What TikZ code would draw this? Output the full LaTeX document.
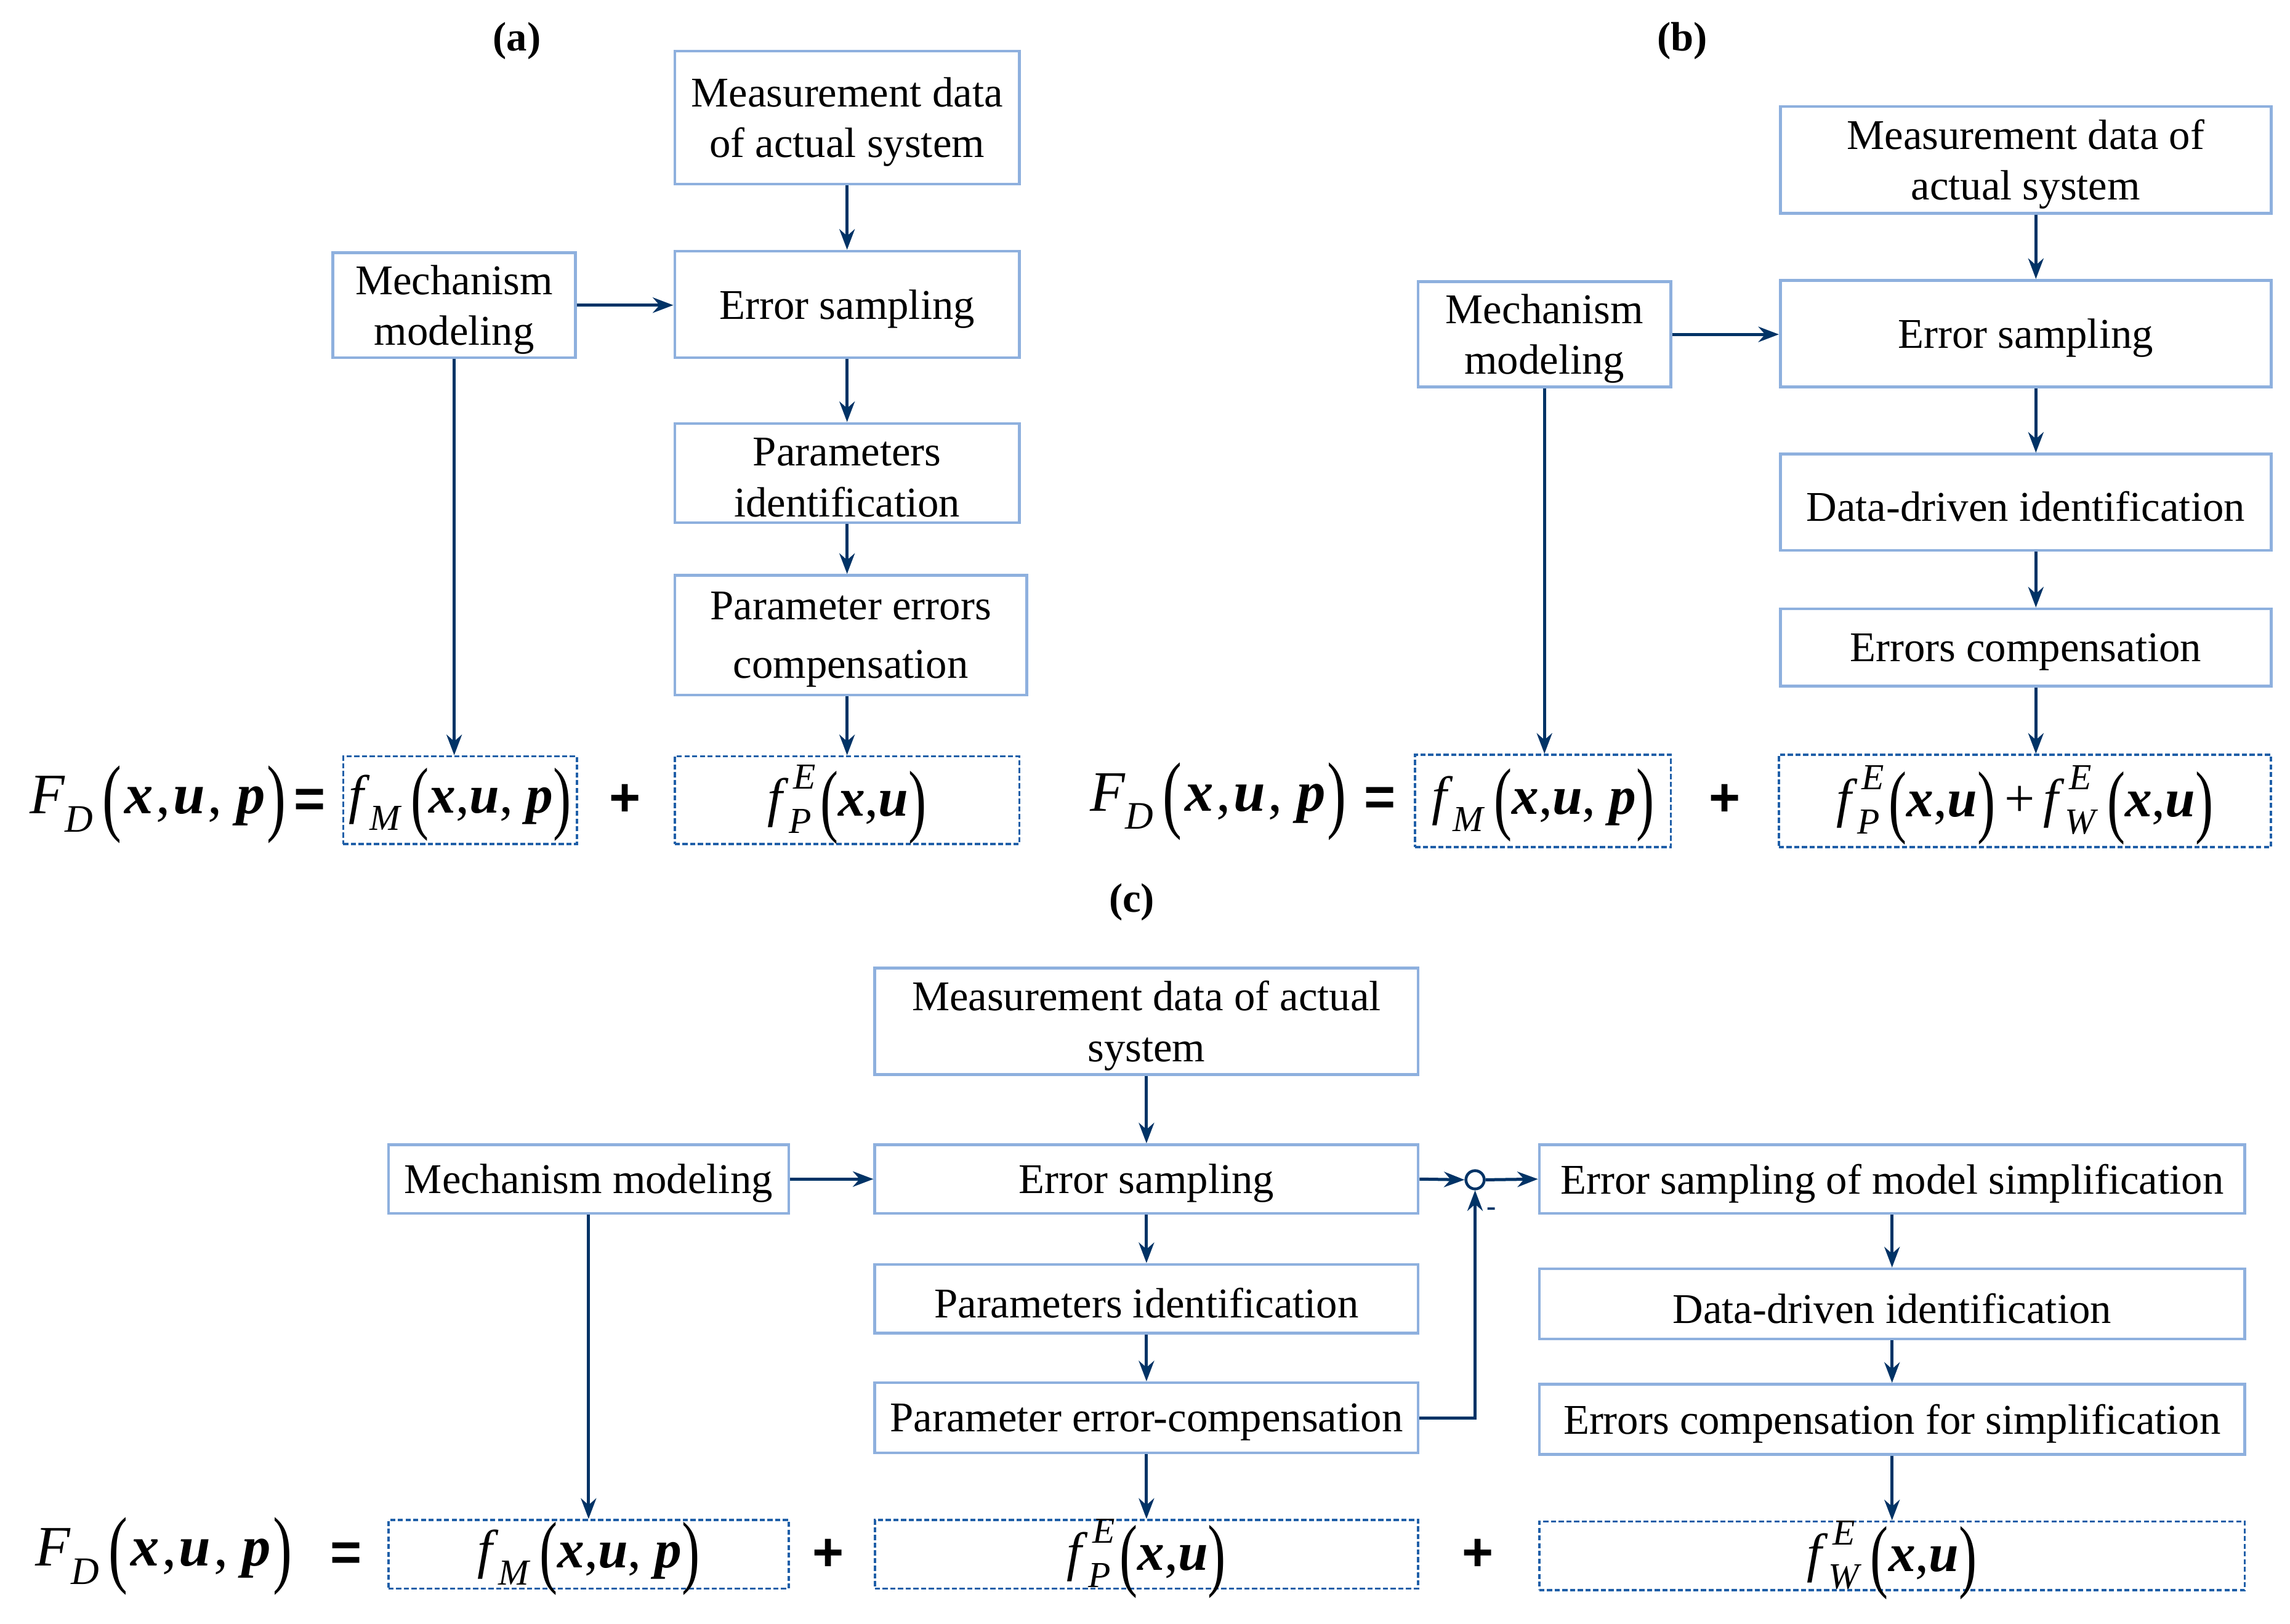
\documentclass[tikz,border=0pt]{standalone}
\usepackage{graphicx}
\usepackage{fontspec}
\setmainfont{Liberation Serif}
\newfontfamily\sansb{Liberation Sans}
\usetikzlibrary{arrows.meta,calc}
\definecolor{boxc}{HTML}{8EB0DE}
\definecolor{arrc}{HTML}{003366}
\definecolor{dashc}{HTML}{1F5FA8}
\newcommand{\boxfnt}{\fontsize{16.5}{19.8}\selectfont}
\newcommand{\formfnt}{\fontsize{21}{25}\selectfont}
\newcommand{\bigformfnt}{\fontsize{22.3}{27}\selectfont}
\newcommand{\bi}[1]{\textbf{\textit{#1}}}
\newcommand{\LP}{\raisebox{-0.2em}{\scalebox{1}[1.5]{(}}}
\newcommand{\RP}{\raisebox{-0.2em}{\scalebox{1}[1.5]{)}}}
\newcommand{\sbs}[1]{\raisebox{-0.32em}{\scalebox{0.68}{\textit{#1}}}}
\newcommand{\sbsp}[2]{\rlap{\kern0.08em\raisebox{0.5em}{\scalebox{0.68}{\textit{#2}}}}\sbs{#1}}
\newcommand{\FD}{\textit{F}\sbs{D}\,\LP\kern0.05em\bi{x}\kern0.05em,\kern0.05em\bi{u}\kern0.05em, \bi{p}\kern0.03em\RP}
\newcommand{\FM}{\textit{f}\sbs{M}\,\LP\bi{x},\bi{u}, \bi{p}\RP}
\newcommand{\FP}{\textit{f}\sbsp{P}{E}\,\LP\bi{x},\bi{u}\RP}
\newcommand{\FW}{\textit{f}\sbsp{W}{E}\,\LP\bi{x},\bi{u}\RP}
\newcommand{\heavy}[1]{{\sansb\bfseries #1}}
% style, name, x1, y1, x2, y2, text
\newcommand{\rectnode}[7]{%
  \node[#1, minimum width={(#5-#3)*0.02cm}, minimum height={(#6-#4)*0.02cm}] (#2) at ({(#3+#5)/2},{(#4+#6)/2}) {};
  \node[#1 text] (#2t) at ($(#2.center)+(0,3)$) {#7};}
\begin{document}
\begin{tikzpicture}[x=0.02cm,y=-0.02cm,
  box/.style={draw=boxc, line width=1.1pt, inner sep=0pt},
  box text/.style={inner sep=0pt, align=center, font=\boxfnt},
  dbox/.style={draw=dashc, line width=0.9pt, dash pattern=on 2pt off 1pt, inner sep=0pt},
  dbox text/.style={inner sep=0pt, font=\formfnt},
  arr/.style={draw=arrc, line width=1.2pt, -{Stealth[length=8pt,width=6pt]}},
  formula/.style={font=\formfnt, inner sep=0pt},
  fdformula/.style={font=\bigformfnt, inner sep=0pt},
  ttl/.style={font=\fontsize{16}{19}\selectfont\bfseries}]
\useasboundingbox (0,0) rectangle (1568,1112);

% ---------------- (a) ----------------
\node[ttl] (ta) at (354,28) {(a)};
\rectnode{box}{ma}{462}{35}{698}{126}{Measurement data\\of actual system}
\rectnode{box}{ea}{462}{172}{698}{245}{Error sampling}
\rectnode{box}{mecha}{228}{173}{394}{245}{Mechanism\\modeling}
\rectnode{box}{pia}{462}{290}{698}{358}{Parameters\\identification}
\rectnode{box}{pca}{462}{394}{703}{476}{Parameter errors\\[3pt]compensation}
\rectnode{dbox}{fma}{235}{518}{395}{578}{\FM}
\rectnode{dbox}{fpa}{462}{518}{698}{578}{\FP}
\node[fdformula, anchor=west] (FDa) at (20,551) {\FD};
\node[formula] (eqa) at (212,550) {\heavy{=}};
\node[formula] (plusa) at (428,548) {\heavy{+}};
\draw[arr] (ma) -- (ea);
\draw[arr] (ea) -- (pia);
\draw[arr] (pia.south) -- (pia.south |- pca.north);
\draw[arr] (pca.south -| fpa.north) -- (fpa.north);
\draw[arr] (mecha.east) -- (mecha.east -| ea.west);
\draw[arr] (mecha.south) -- (mecha.south |- fma.north);

% ---------------- (b) ----------------
\node[ttl] (tb) at (1152,28) {(b)};
\coordinate (xb) at (1394,0);
\rectnode{box}{mb}{1219}{73}{1555}{146}{Measurement data of\\actual system}
\rectnode{box}{eb}{1219}{192}{1555}{265}{Error sampling}
\rectnode{box}{mechb}{971}{193}{1144}{265}{Mechanism\\modeling}
\rectnode{box}{dib}{1219}{311}{1555}{377}{Data-driven identification}
\rectnode{box}{ecb}{1219}{417}{1555}{470}{Errors compensation}
\rectnode{dbox}{fmb}{969}{517}{1144}{580}{\FM}
\rectnode{dbox}{fpb}{1218}{517}{1555}{580}{\FP\,+\,\FW}
\node[fdformula, anchor=west] (FDb) at (746,549) {\FD};
\node[formula] (eqb) at (945,549) {\heavy{=}};
\node[formula] (plusb) at (1181,548) {\heavy{+}};
\draw[arr] (xb |- mb.south) -- (xb |- eb.north);
\draw[arr] (xb |- eb.south) -- (xb |- dib.north);
\draw[arr] (xb |- dib.south) -- (xb |- ecb.north);
\draw[arr] (xb |- ecb.south) -- (xb |- fpb.north);
\draw[arr] (mechb.east) -- (mechb.east -| eb.west);
\draw[arr] (mechb.south) -- (mechb.south |- fmb.north);

% ---------------- (c) ----------------
\node[ttl] (tc) at (775,618) {(c)};
\rectnode{box}{mc}{599}{663}{971}{736}{Measurement data of actual\\system}
\rectnode{box}{mechc}{266}{784}{540}{831}{Mechanism modeling}
\rectnode{box}{ec}{599}{784}{971}{831}{Error sampling}
\rectnode{box}{pic}{599}{866}{971}{913}{Parameters identification}
\rectnode{box}{pcc}{599}{947}{971}{995}{Parameter error-compensation}
\rectnode{box}{esc}{1054}{784}{1537}{831}{Error sampling of model simplification}
\rectnode{box}{dic}{1054}{869}{1537}{917}{Data-driven identification}
\rectnode{box}{ecc}{1054}{948}{1537}{996}{Errors compensation for simplification}
\node[draw=arrc, line width=1.1pt, circle, minimum size=0.25cm, inner sep=0pt] (sum) at (1010,808) {};
\node[text=arrc, font=\fontsize{11}{12}\selectfont\bfseries, inner sep=0pt] (minus) at (1021,830) {-};
\rectnode{dbox}{fmc}{266}{1041}{540}{1088}{\FM}
\rectnode{dbox}{fpc}{599}{1041}{971}{1088}{\FP}
\rectnode{dbox}{fwc}{1054}{1042}{1537}{1089}{\FW}
\node[fdformula, anchor=west] (FDc) at (24,1066) {\FD};
\node[formula] (eqc) at (237,1066) {\heavy{=}};
\node[formula] (plusc1) at (567,1065) {\heavy{+}};
\node[formula] (plusc2) at (1012,1065) {\heavy{+}};
\draw[arr] (mc) -- (ec);
\draw[arr] (ec) -- (pic);
\draw[arr] (pic) -- (pcc);
\draw[arr] (pcc) -- (fpc);
\draw[arr] (mechc) -- (ec);
\draw[arr] (mechc.south) -- (mechc.south |- fmc.north);
\draw[arr] (ec.east) -- (sum.west);
\draw[arr] (sum.east) -- (esc.west);
\draw[arr] (pcc.east) -| (sum.south);
\draw[arr] (esc) -- (dic);
\draw[arr] (dic) -- (ecc);
\draw[arr] (ecc) -- (fwc);
\end{tikzpicture}
\end{document}
